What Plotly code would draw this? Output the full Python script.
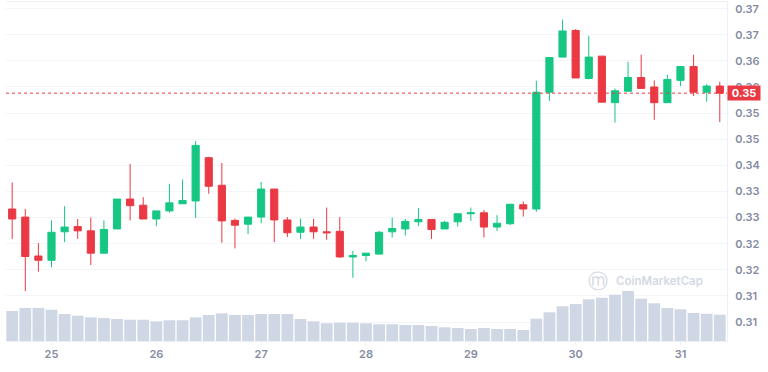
import pandas as pd
import plotly.graph_objects as go

# ---- data (3-hour candles) ----
start_time = "2024-05-24 15:00"
n_candles = 55
times = pd.date_range(start=start_time, periods=n_candles, freq="3h")

opens = [0.3304, 0.3287, 0.3205, 0.3196, 0.3256, 0.3267, 0.3258, 0.3211, 0.3262, 0.3325,
         0.3312, 0.3283, 0.3300, 0.3315, 0.3321, 0.3412, 0.3354, 0.3280, 0.3272, 0.3287,
         0.3346, 0.3281, 0.3255, 0.3266, 0.3256, 0.3257, 0.3203, 0.3206, 0.3209, 0.3256,
         0.3262, 0.3277, 0.3282, 0.3262, 0.3277, 0.3294, 0.3296, 0.3266, 0.3273, 0.3313,
         0.3304, 0.3550, 0.3624, 0.3680, 0.3579, 0.3626, 0.3528, 0.3552, 0.3581, 0.3561,
         0.3528, 0.3575, 0.3604, 0.3550, 0.3563]
highs = [0.3360, 0.3304, 0.3232, 0.3280, 0.3310, 0.3283, 0.3286, 0.3280, 0.3325, 0.3399,
         0.3329, 0.3300, 0.3357, 0.3366, 0.3447, 0.3414, 0.3401, 0.3284, 0.3287, 0.3361,
         0.3346, 0.3287, 0.3284, 0.3283, 0.3307, 0.3287, 0.3216, 0.3211, 0.3258, 0.3286,
         0.3283, 0.3306, 0.3282, 0.3279, 0.3294, 0.3307, 0.3302, 0.3291, 0.3314, 0.3320,
         0.3574, 0.3623, 0.3703, 0.3683, 0.3669, 0.3626, 0.3558, 0.3614, 0.3629, 0.3575,
         0.3587, 0.3604, 0.3629, 0.3567, 0.3572]
lows = [0.3241, 0.3131, 0.3172, 0.3181, 0.3234, 0.3241, 0.3186, 0.3211, 0.3262, 0.3280,
        0.3283, 0.3268, 0.3296, 0.3315, 0.3285, 0.3336, 0.3233, 0.3221, 0.3251, 0.3274,
        0.3234, 0.3245, 0.3241, 0.3241, 0.3239, 0.3201, 0.3159, 0.3194, 0.3209, 0.3244,
        0.3248, 0.3268, 0.3241, 0.3262, 0.3267, 0.3279, 0.3244, 0.3258, 0.3270, 0.3288,
        0.3298, 0.3532, 0.3624, 0.3580, 0.3577, 0.3529, 0.3486, 0.3552, 0.3558, 0.3492,
        0.3528, 0.3563, 0.3542, 0.3530, 0.3487]
closes = [0.3283, 0.3204, 0.3196, 0.3255, 0.3266, 0.3258, 0.3211, 0.3261, 0.3325, 0.3311,
          0.3283, 0.3300, 0.3317, 0.3322, 0.3438, 0.3352, 0.3279, 0.3270, 0.3287, 0.3346,
          0.3281, 0.3254, 0.3266, 0.3256, 0.3254, 0.3203, 0.3206, 0.3211, 0.3255, 0.3263,
          0.3278, 0.3282, 0.3261, 0.3276, 0.3294, 0.3296, 0.3266, 0.3274, 0.3314, 0.3304,
          0.3550, 0.3623, 0.3679, 0.3580, 0.3624, 0.3529, 0.3553, 0.3581, 0.3558, 0.3528,
          0.3577, 0.3604, 0.3550, 0.3563, 0.3548]
volumes = [30.0, 33.0, 33.0, 31.3, 27.0, 25.3, 23.7, 23.0, 22.0, 21.3,
           21.3, 19.7, 20.7, 20.7, 23.7, 26.0, 27.7, 26.0, 26.0, 27.0,
           27.0, 27.0, 22.0, 19.7, 17.7, 18.3, 18.3, 17.7, 16.7, 16.7,
           16.0, 16.0, 15.0, 13.7, 13.0, 12.0, 13.0, 12.0, 12.0, 11.0,
           22.3, 28.7, 34.7, 37.0, 41.7, 43.3, 46.3, 50.0, 42.3, 37.7,
           33.0, 31.7, 28.0, 27.3, 26.3]

price_tickvals = [0.3066, 0.3121, 0.3176, 0.3231, 0.3286, 0.3341, 0.3396,
                  0.3451, 0.3506, 0.3561, 0.3616, 0.3671, 0.3726]
price_ticktext = ["0.31", "0.31", "0.32", "0.32", "0.33", "0.33", "0.34",
                  "0.35", "0.35", "0.36", "0.36", "0.37", "0.37"]
current_price_label = "0.35"

GREEN = "#16c784"
RED = "#ea3943"
VOL = "#cfd6e4"
GRID = "#f3f5f8"
LINE = "#eceff3"
TICK = "#858ca2"
WM = "#d3d9e4"
FONT = "Inter"

fig = go.Figure()

fig.add_trace(go.Candlestick(
    x=times, open=opens, high=highs, low=lows, close=closes,
    increasing=dict(line=dict(color=GREEN, width=1), fillcolor=GREEN),
    decreasing=dict(line=dict(color=RED, width=1), fillcolor=RED),
    whiskerwidth=0, yaxis="y", showlegend=False, hoverinfo="skip",
))

fig.add_trace(go.Bar(
    x=times, y=volumes, marker=dict(color=VOL, line=dict(width=0)),
    yaxis="y2", showlegend=False, hoverinfo="skip",
))

# current price dotted line
fig.add_shape(type="line", xref="paper", x0=0, x1=1, yref="y",
              y0=closes[-1], y1=closes[-1],
              line=dict(color=RED, width=1, dash="dot"))

# current price label
fig.add_annotation(xref="paper", x=1, xanchor="left", yref="y", y=closes[-1],
                   yanchor="middle",
                   text="<b>" + current_price_label + "</b>", showarrow=False,
                   bgcolor=RED, font=dict(color="white", size=11, family=FONT),
                   width=30, height=12, borderpad=1, align="center")

# watermark
fig.add_annotation(xref="paper", yref="paper", x=0.8207, y=0.178,
                   xanchor="center", yanchor="middle",
                   text="ⓜ", showarrow=False,
                   font=dict(size=20, color=WM, family="DejaVu Sans"))
fig.add_annotation(xref="paper", yref="paper", x=0.843, xanchor="left", y=0.178,
                   yanchor="middle",
                   text="CoinMarketCap", showarrow=False,
                   font=dict(size=11.5, color=WM, family=FONT, weight=600))

vmax = max(volumes)

fig.update_layout(
    width=768, height=372,
    margin=dict(l=6, r=41, t=2, b=31, autoexpand=False),
    paper_bgcolor="white", plot_bgcolor="white",
    boxgap=0.22, bargap=0.1,
    xaxis=dict(
        type="date",
        range=["2024-05-24 13:35", "2024-05-31 10:39"],
        rangeslider=dict(visible=False),
        tickformat="%-d", dtick=86400000, tick0="2024-05-25",
        showgrid=False, showline=True, linecolor=LINE, linewidth=1, mirror=True,
        ticks="outside", ticklen=3, tickcolor=LINE,
        tickfont=dict(family=FONT, size=11, color=TICK, weight=600),
        zeroline=False,
    ),
    yaxis=dict(
        side="right", range=[0.3026, 0.3740],
        tickvals=price_tickvals, ticktext=price_ticktext,
        showgrid=True, gridcolor=GRID, gridwidth=1,
        showline=True, linecolor=LINE, linewidth=1,
        ticks="", ticklabelstandoff=5,
        tickfont=dict(family=FONT, size=11, color=TICK, weight=600),
        zeroline=False,
    ),
    yaxis2=dict(
        overlaying="y", side="left", range=[0, vmax * 339 / 50],
        showgrid=False, showticklabels=False, zeroline=False, showline=False,
    ),
)

fig.write_html(
    "out.html",
    config={"displayModeBar": False},
    post_script="document.body.style.margin='0';document.body.style.padding='0';",
)
